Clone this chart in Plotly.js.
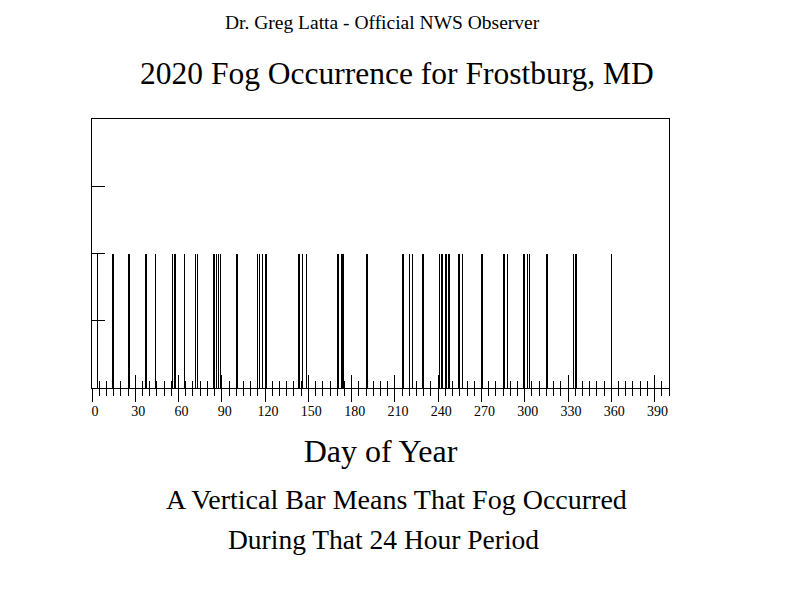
<!DOCTYPE html>
<html><head><meta charset="utf-8">
<script src="https://cdn.plot.ly/plotly-3.0.1.min.js"></script>
<style>html,body{margin:0;padding:0;background:#fff}</style>
</head><body><div id="chart" style="width:786px;height:608px"></div>
<script>
// Days of 2020 on which fog occurred
const fogDays = [4, 14, 15, 25, 26, 37, 38, 44, 56, 57, 58, 64, 72, 73, 84, 85, 86, 88, 89,
  100, 101, 115, 116, 118, 120, 121, 143, 144, 146, 149, 170, 171, 173, 174, 190, 191,
  215, 216, 220, 222, 229, 230, 241, 242, 243, 245, 246, 247, 248, 254, 255, 257,
  270, 271, 285, 286, 288, 299, 300, 302, 303, 315, 316, 334, 335, 336, 360];
// Bar height for each fog day
const fogLevel = [2, 2, 2, 2, 2, 2, 2, 2, 2, 2, 2, 2, 2, 2, 2, 2, 2, 2, 2,
  2, 2, 2, 2, 2, 2, 2, 2, 2, 2, 2, 2, 2, 2, 2, 2, 2,
  2, 2, 2, 2, 2, 2, 2, 2, 2, 2, 2, 2, 2, 2, 2, 2,
  2, 2, 2, 2, 2, 2, 2, 2, 2, 2, 2, 2, 2, 2, 2];
const xTickVals = [0, 30, 60, 90, 120, 150, 180, 210, 240, 270, 300, 330, 360, 390];
const xTickText = ['0', '30', '60', '90', '120', '150', '180', '210', '240', '270', '300', '330', '360', '390'];
const yTickVals = [1, 2, 3];

const serif = 'Liberation Serif, Times New Roman, serif';

const traces = [
  {type: 'bar', x: fogDays, y: fogLevel, width: 0.75,
   marker: {color: '#000', line: {width: 0}}, hoverinfo: 'skip', showlegend: false},
  {type: 'scatter', x: [], y: [], xaxis: 'x2', yaxis: 'y', showlegend: false, hoverinfo: 'skip'}
];

const layout = {
  width: 786, height: 608,
  margin: {l: 92, r: 117, t: 119, b: 220, pad: 0},
  paper_bgcolor: '#fff', plot_bgcolor: '#fff',
  font: {family: serif, color: '#000'},
  showlegend: false,
  bargap: 0,
  title: {text: '2020 Fog Occurrence for Frostburg, MD',
    font: {family: serif, size: 31.5, color: '#000'},
    xref: 'container', x: 0.505, xanchor: 'center',
    yref: 'container', y: 1 - 73 / 608, yanchor: 'middle'},
  xaxis: {
    range: [0, 400], showline: true, mirror: true, linecolor: '#000', linewidth: 1,
    showgrid: false, zeroline: false,
    tickmode: 'array', tickvals: xTickVals, ticktext: xTickText,
    ticks: 'outside', ticklen: 13, tickwidth: 1, tickcolor: '#000',
    ticklabelshift: 3, ticklabelstandoff: -3,
    tickfont: {family: serif, size: 14, color: '#000'},
    minor: {tickmode: 'linear', tick0: 0, dtick: 5, ticks: 'outside', ticklen: 7, tickwidth: 1, tickcolor: '#000', showgrid: false},
    title: {text: 'Day of Year', font: {family: serif, size: 32, color: '#000'}, standoff: 21},
    fixedrange: true
  },
  xaxis2: {
    range: [0, 400], overlaying: 'x', anchor: 'y', side: 'bottom',
    showline: false, showgrid: false, zeroline: false, showticklabels: false,
    tickmode: 'array', tickvals: xTickVals,
    ticks: 'inside', ticklen: 13, tickwidth: 1, tickcolor: '#000',
    minor: {tickmode: 'linear', tick0: 0, dtick: 5, ticks: 'inside', ticklen: 7, tickwidth: 1, tickcolor: '#000', showgrid: false},
    fixedrange: true
  },
  yaxis: {
    range: [0, 4], showline: true, mirror: true, linecolor: '#000', linewidth: 1,
    showgrid: false, zeroline: false, showticklabels: false,
    tickmode: 'array', tickvals: yTickVals,
    ticks: 'inside', ticklen: 13, tickwidth: 1, tickcolor: '#000',
    fixedrange: true
  },
  annotations: [
    {text: 'Dr. Greg Latta - Official NWS Observer', xref: 'paper', yref: 'paper',
     x: (382 - 92) / 577, y: (388 - 23) / 269, xanchor: 'center', yanchor: 'middle',
     showarrow: false, font: {family: serif, size: 19.5, color: '#000'}},
    {text: 'A Vertical Bar Means That Fog Occurred', xref: 'paper', yref: 'paper',
     x: (396 - 92) / 577, y: (388 - 499) / 269, xanchor: 'center', yanchor: 'middle',
     showarrow: false, font: {family: serif, size: 28, color: '#000'}},
    {text: 'During That 24 Hour Period', xref: 'paper', yref: 'paper',
     x: (384 - 92) / 577, y: (388 - 539) / 269, xanchor: 'center', yanchor: 'middle',
     showarrow: false, font: {family: serif, size: 27.5, color: '#000'}}
  ]
};

Plotly.newPlot('chart', traces, layout, {staticPlot: true, displayModeBar: false});
</script>
</body></html>
